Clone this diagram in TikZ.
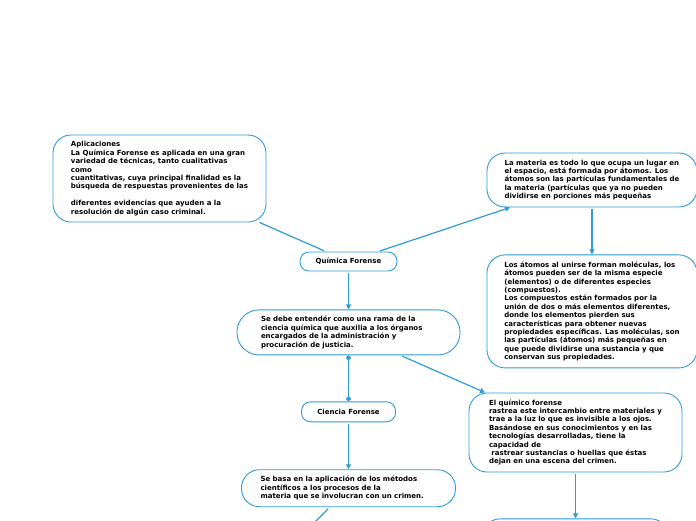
\documentclass[tikz,border=0pt]{standalone}
\usepackage{fontspec}
\setmainfont{DejaVu Sans}
\usetikzlibrary{positioning,arrows.meta}
\definecolor{mapBlue}{RGB}{45,155,222}

\begin{document}
\begin{tikzpicture}[x=1pt, y=1pt,
    box/.style={rectangle, draw=mapBlue, line width=0.9pt, rounded corners=18pt, align=left, text=black, inner sep=3pt, font=\fontsize{7}{8.4}\selectfont\bfseries},
    pill/.style={box, rounded corners=9pt},
    arrow/.style={-{Triangle[length=5pt,width=5pt]}, line width=1.2pt, draw=mapBlue, shorten <=2pt},
    link/.style={line width=1.2pt, draw=mapBlue, shorten <=2pt},
    dots/.style={{Circle[length=5pt]}-{Circle[length=5pt]}, line width=1.2pt, draw=mapBlue}
]
    \useasboundingbox (0,0) rectangle (696,-520);

    \node[pill, minimum width=97pt, minimum height=19pt] (qf) at (348.5,-261.5) {Química Forense};
    \node[box, minimum width=213pt, minimum height=87pt] (apl) at (159.5,-178.5) {Aplicaciones\\
La Química Forense es aplicada en una gran\\
variedad de técnicas, tanto cualitativas\\
como\\
cuantitativas, cuya principal finalidad es la\\
búsqueda de respuestas provenientes de las\\[8.4pt]
diferentes evidencias que ayuden a la\\
resolución de algún caso criminal.};
    \node[box, minimum width=210pt, minimum height=54pt] (mat) at (592,-180) {La materia es todo lo que ocupa un lugar en\\
el espacio, está formada por átomos. Los\\
átomos son las partículas fundamentales de\\
la materia (partículas que ya no pueden\\
dividirse en porciones más pequeñas};
    \node[box, minimum width=210pt, minimum height=113pt, below=47pt of mat] (ato) {Los átomos al unirse forman moléculas, los\\
átomos pueden ser de la misma especie\\
(elementos) o de diferentes especies\\
(compuestos).\\
Los compuestos están formados por la\\
unión de dos o más elementos diferentes,\\
donde los elementos pierden sus\\
características para obtener nuevas\\
propiedades específicas. Las moléculas, son\\
las partículas (átomos) más pequeñas en\\
que puede dividirse una sustancia y que\\
conservan sus propiedades.};
    \node[box, rounded corners=22pt, inner xsep=24pt, text width=175pt, minimum height=45pt, below=38pt of qf] (def) {Se debe entendér como una rama de la\\
ciencia química que auxilia a los órganos\\
encargados de la administración y\\
procuración de justicia.};
    \node[pill, minimum width=94pt, minimum height=20pt, below=46pt of def] (cf) {Ciencia Forense};
    \node[box, inner xsep=19pt, text width=176pt, minimum height=37pt, below=47pt of cf] (base) {Se basa en la aplicación de los métodos\\
científicos a los procesos de la\\
materia que se involucran con un crimen.};
    \node[box, minimum width=213pt, minimum height=79pt] (quim) at (575.5,-432.5) {El químico forense\\
rastrea este intercambio entre materiales y\\
trae a la luz lo que es invisible a los ojos.\\
Basándose en sus conocimientos y en las\\
tecnologías desarrolladas, tiene la\\
capacidad de\\
\mbox{}\ rastrear sustancias o huellas que éstas\\
dejan en una escena del crimen.};
    \node[box, minimum width=187pt, minimum height=60pt, below=46pt of quim] (next) {};
    \coordinate (baseout) at (314,-523);

    \draw[link] (qf) -- (apl);
    \draw[arrow] (qf) -- (mat);
    \draw[arrow] (mat) -- (ato);
    \draw[arrow] (qf) -- (def);
    \draw[dots] (def) -- (cf);
    \draw[arrow] (def) -- (quim);
    \draw[arrow] (cf) -- (base);
    \draw[link] (base) -- (baseout);
    \draw[arrow] (quim) -- (next);
\end{tikzpicture}
\end{document}
